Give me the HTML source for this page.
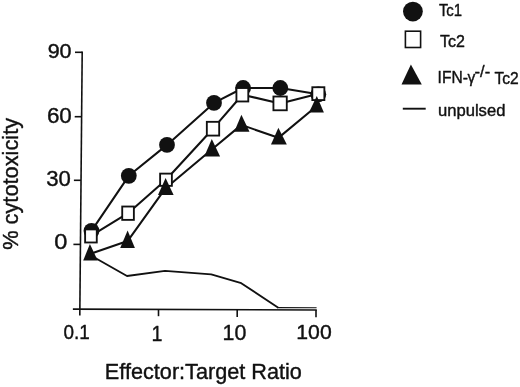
<!DOCTYPE html><html><head><meta charset="utf-8"><title>Figure</title><style>html,body{margin:0;padding:0;background:#fff}svg{display:block}text{font-family:"Liberation Sans",sans-serif;fill:#111;stroke:#111;stroke-width:.4px;stroke-linejoin:round}</style></head><body>
<svg width="520" height="387" viewBox="0 0 520 387">
<rect width="520" height="387" fill="#fff"/>
<g stroke="#111" stroke-width="1.6" fill="none" stroke-linecap="butt">
<path d="M82.2 51.6L79.8 315.4"/>
<path d="M72.9 309.1L316.8 310"/>
<path d="M75 52.3 H82.2"/>
<path d="M74.7 116.7 H81.6"/>
<path d="M73.9 180.3 H81"/>
<path d="M73.4 244.4 H80.4"/>
<path d="M158.5 309.3 V316.2"/>
<path d="M237.2 309.8 V317"/>
<path d="M316 310 V317.2"/>
</g>
<g stroke="#111" stroke-width="2.05" fill="none" stroke-linejoin="round">
<polyline points="90.00,255.00 127.00,276.00 165.00,270.90 211.25,274.40 241.25,283.20 278.30,307.70" stroke-width="1.85"/>
<path d="M277.4 307.6L316.6 307.8" stroke-width="1.15"/>
<polyline points="91.50,230.80 128.80,175.80 167.00,144.90 214.00,102.90 243.10,88.00 280.30,88.00 318.30,94.30"/>
<polyline points="90.95,235.95 128.05,213.20 166.00,179.75 213.00,128.70 242.35,94.75 280.10,103.40 318.35,93.65"/>
<polyline points="89.90,253.94 127.60,241.04 165.60,188.20 211.80,149.48 241.40,124.90 278.40,137.84 316.80,105.96"/>
</g>
<circle cx="91.5" cy="230.8" r="7.9" fill="#111"/>
<circle cx="128.8" cy="175.8" r="7.9" fill="#111"/>
<circle cx="167" cy="144.9" r="7.9" fill="#111"/>
<circle cx="214" cy="102.9" r="7.9" fill="#111"/>
<circle cx="243.1" cy="88" r="7.9" fill="#111"/>
<circle cx="280.3" cy="88" r="7.9" fill="#111"/>
<circle cx="318.3" cy="94.3" r="7.9" fill="#111"/>
<polygon points="89.9,244.1 83.2,260.5 97.7,260.5" fill="#111"/>
<polygon points="127.6,230.6 120.2,248.0 134.9,248.0" fill="#111"/>
<polygon points="211.8,139.1 204.3,156.4 220.1,156.4" fill="#111"/>
<polygon points="241.4,114.7 234.3,131.7 249.5,131.7" fill="#111"/>
<polygon points="278.4,127.7 271,144.6 286.8,144.6" fill="#111"/>
<rect x="85.12" y="229.43" width="11.65" height="13.05" fill="#fff" stroke="#111" stroke-width="1.85"/>
<rect x="122.22" y="206.53" width="11.65" height="13.35" fill="#fff" stroke="#111" stroke-width="1.85"/>
<rect x="160.12" y="173.62" width="11.75" height="12.25" fill="#fff" stroke="#111" stroke-width="1.85"/>
<rect x="206.83" y="121.83" width="12.35" height="13.75" fill="#fff" stroke="#111" stroke-width="1.85"/>
<rect x="236.43" y="88.02" width="11.85" height="13.45" fill="#fff" stroke="#111" stroke-width="1.85"/>
<rect x="273.43" y="96.52" width="13.35" height="13.75" fill="#fff" stroke="#111" stroke-width="1.85"/>
<rect x="312.32" y="87.22" width="12.05" height="12.85" fill="#fff" stroke="#111" stroke-width="1.85"/>
<polygon points="165.6,178 158,195 173.6,195" fill="#111"/>
<polygon points="316.8,96 309,112.6 323.9,112.6" fill="#111"/>
<text transform="translate(47.63 57.89) scale(1.0202 1)" font-size="21.13">90</text>
<text transform="translate(46.88 122.98) scale(1.0148 1)" font-size="22.11">60</text>
<text transform="translate(46.21 185.59) scale(1.0335 1)" font-size="21.41">30</text>
<text transform="translate(54.37 249.29) scale(1.1000 1)" font-size="21.41">0</text>
<text transform="translate(63.44 338.89) scale(0.9078 1)" font-size="20.85">0.1</text>
<text transform="translate(151.44 340.90) scale(0.9000 1)" font-size="21.88">1</text>
<text transform="translate(222.59 340.08) scale(0.9931 1)" font-size="21.55">10</text>
<text transform="translate(296.31 338.60) scale(1.0391 1)" font-size="20.42">100</text>
<text transform="translate(104.87 379.00) scale(0.9941 1)" font-size="21.80">Effector:Target Ratio</text>
<text transform="translate(438.89 15.73) scale(0.9000 1)" font-size="16.57">Tc1</text>
<text transform="translate(440.00 46.54) scale(0.9801 1)" font-size="16.34">Tc2</text>
<text transform="translate(437.92 115.70) scale(1.0025 1)" font-size="16.60">unpulsed</text>
<text transform="translate(17.90 249.86) rotate(-90) scale(1.0144 1)" font-size="21.50">% cytotoxicity</text>
<text transform="translate(437.60 83.4) scale(0.9514 1)" font-size="16.38"><tspan x="0" y="0">IFN-</tspan><tspan x="31.56" y="0">γ</tspan><tspan x="38.89" y="-6.3" font-size="17.4">-/-</tspan><tspan x="55.27" y="0.2"> Tc2</tspan></text>
<circle cx="412.9" cy="11.6" r="9.9" fill="#111"/>
<rect x="405.4" y="31.2" width="15.2" height="16.3" fill="#fff" stroke="#111" stroke-width="1.6"/>
<polygon points="410.9,64.4 401.5,84.4 421.8,84.4" fill="#111"/>
<path d="M402.8 108.7H425.7" stroke="#111" stroke-width="1.9"/>
</svg></body></html>
